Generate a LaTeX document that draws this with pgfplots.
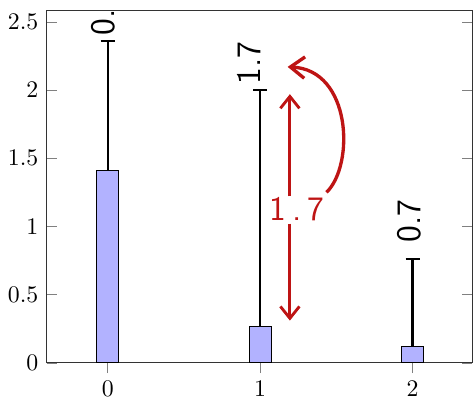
\documentclass[border=0pt]{standalone}
\usepackage{pgfplots}
\pgfplotsset{compat=1.18}
\usetikzlibrary{arrows.meta}
\definecolor{annot}{RGB}{190,20,20}
\begin{document}
\begin{tikzpicture}
\begin{axis}[name=ax, scale only axis, width=178.75pt, height=148.3pt,
  ybar, bar width=9.2pt,
  xmin=-0.4, xmax=2.39, ymin=0, ymax=2.587,
  xtick={0,1,2}, ytick={0,0.5,1,1.5,2,2.5},
  x tick style={gray}, y tick style={gray},
  xtick align=outside, xtick pos=bottom,
  axis line style={black!80}]
\addplot+[fill=blue!30, draw=black, mark=none,
  error bars/.cd, y dir=plus, y explicit,
  error bar style={line width=1pt, black},
  error mark options={rotate=90, mark size=3pt, line width=1pt, black}]
  coordinates {(0,1.41) +- (0,0.95) (1,0.27) +- (0,1.73) (2,0.12) +- (0,0.64)};
\node[rotate=90, anchor=west, inner sep=1pt, font=\sffamily\Large] at (axis cs:-0.03,2.38) {0.9};
\node[rotate=90, anchor=west, inner sep=1pt, font=\sffamily\Large] at (axis cs:0.93,2.02) {1.7};
\node[rotate=90, anchor=west, inner sep=1pt, font=\sffamily\Large] at (axis cs:1.98,0.86) {0.7};
\draw[annot, line width=1.2pt, -{Straight Barb[length=5pt,width=8pt]}] (axis cs:1.195,1.22) -- (axis cs:1.195,1.97);
\draw[annot, line width=1.2pt, -{Straight Barb[length=5pt,width=8pt]}] (axis cs:1.195,1.02) -- (axis cs:1.195,0.31);
\node[annot, font=\sffamily\Large] at (axis cs:1.24,1.13) {1\,.\,7};
\draw[annot, line width=1.4pt, -{Straight Barb[length=6pt,width=9pt]}] (axis cs:1.435,1.25) .. controls (axis cs:1.62,1.45) and (axis cs:1.6,2.15) .. (axis cs:1.18,2.17);
\end{axis}
\pgfresetboundingbox
\path[use as bounding box] (ax.outer south west) rectangle ([xshift=0.8pt,yshift=4.2pt]ax.north east);
\end{tikzpicture}
\end{document}
